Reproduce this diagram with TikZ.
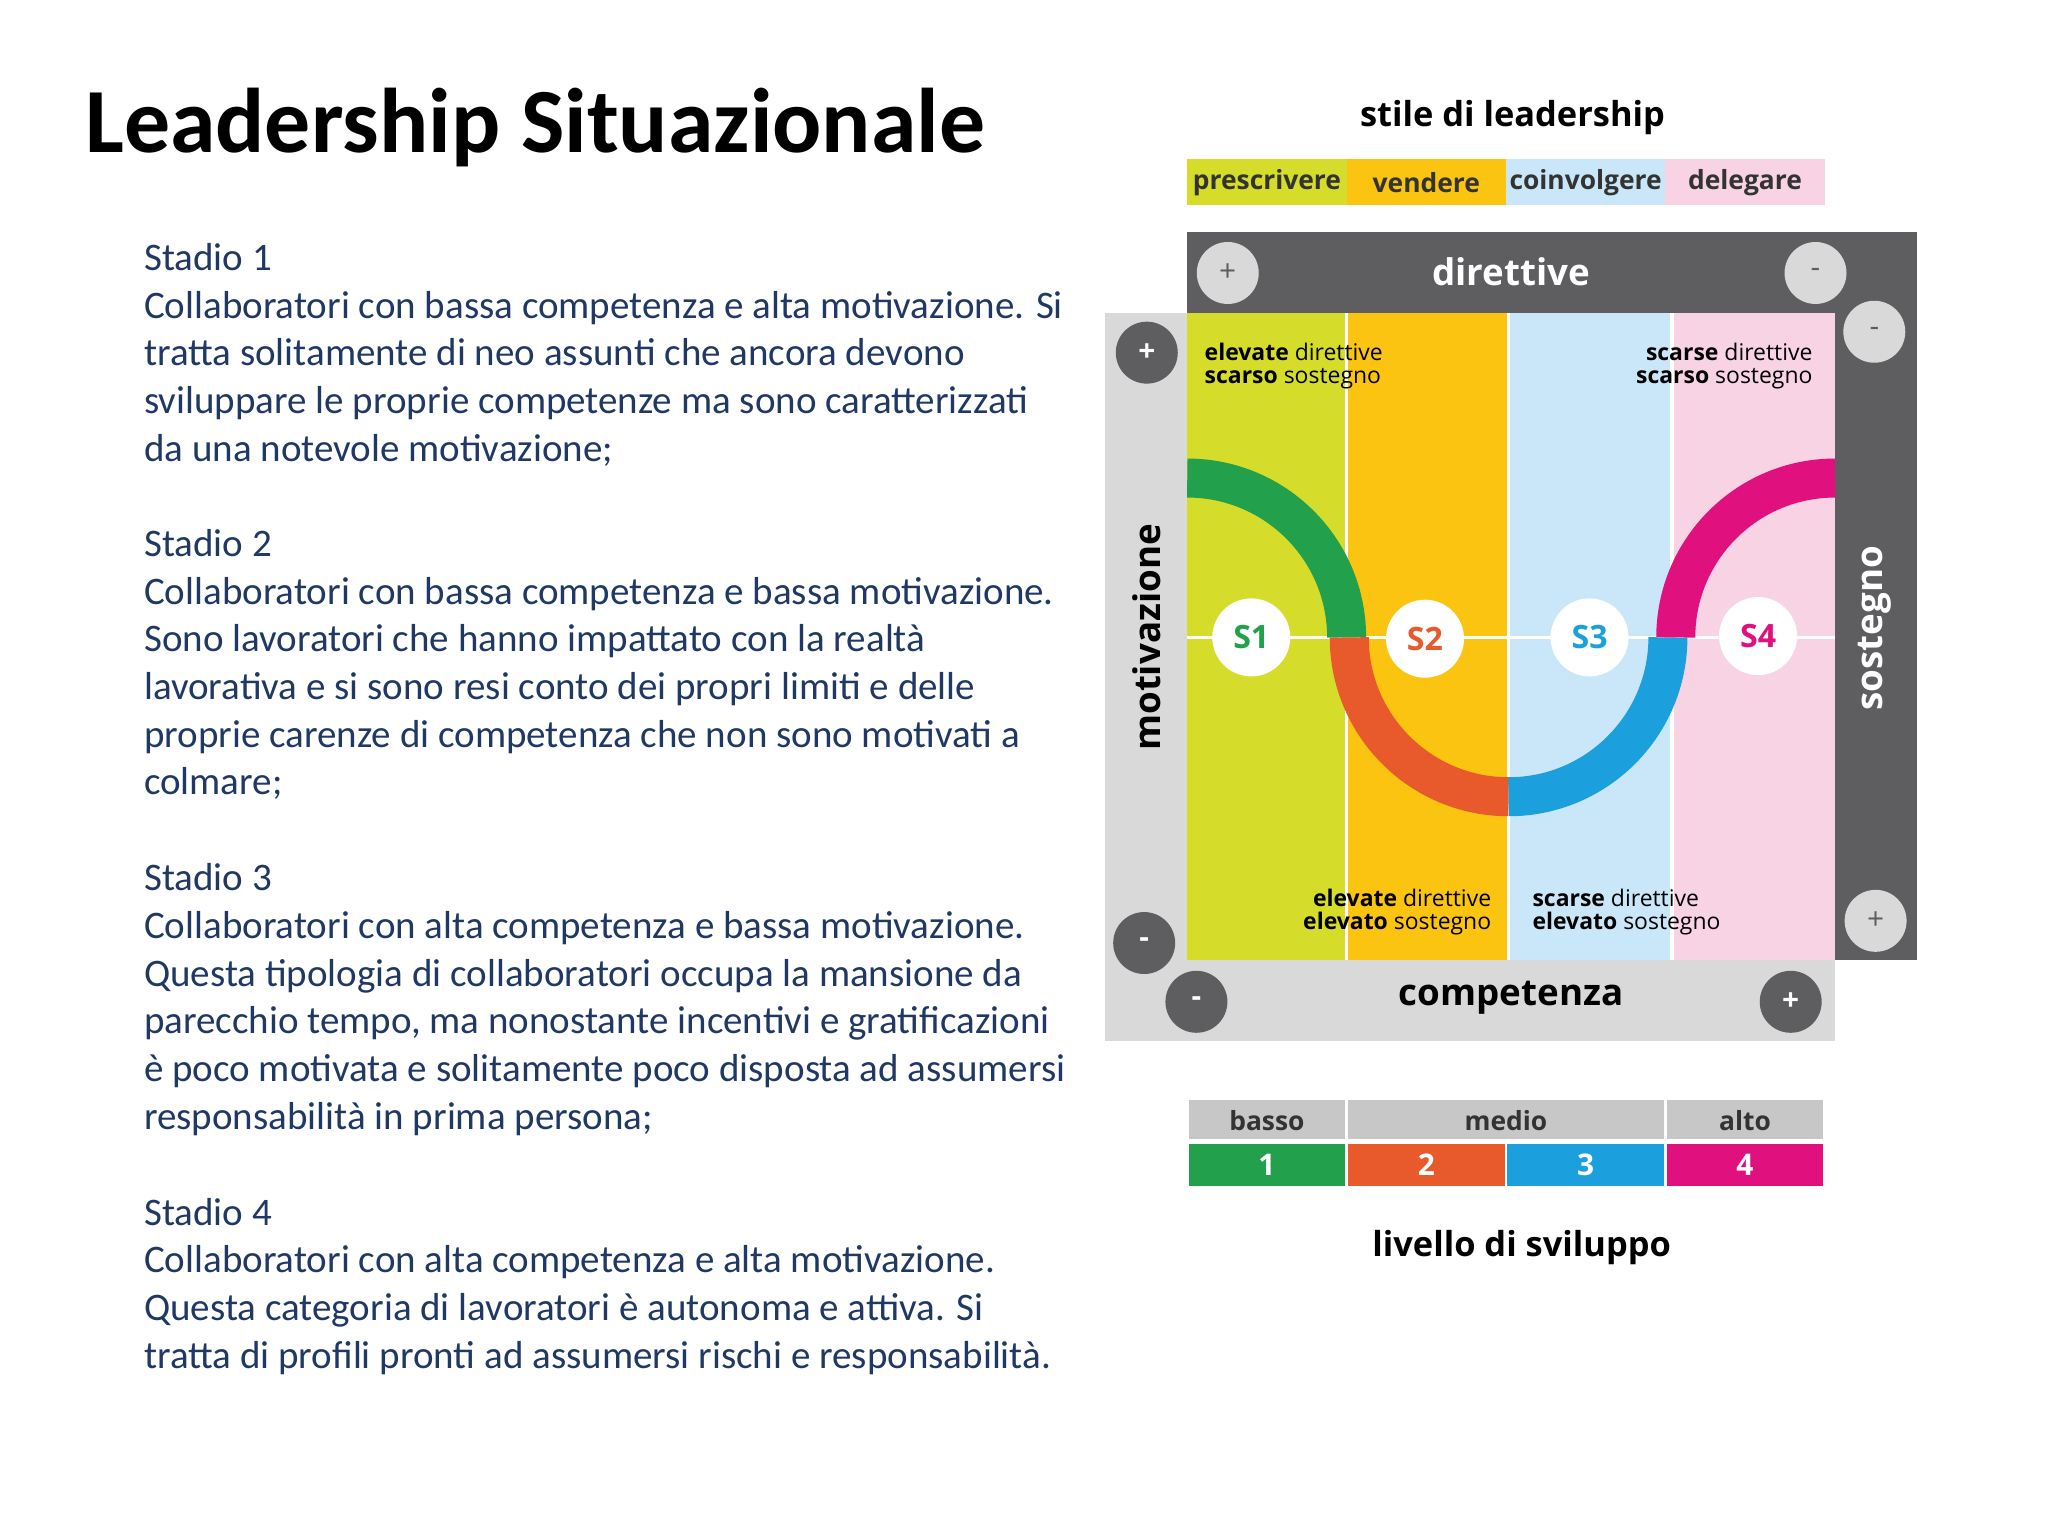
\documentclass[tikz,border=0pt]{standalone}
\usepackage{fontspec}
\setmainfont{Carlito}
\newfontfamily\df{Open Sans}
\definecolor{txtblue}{HTML}{1F3864}
\definecolor{dgray}{HTML}{5E5E60}
\definecolor{lgray}{HTML}{D9D9DA}
\definecolor{cA}{HTML}{D5DC2A}
\definecolor{cB}{HTML}{FBC410}
\definecolor{cC}{HTML}{C9E7F8}
\definecolor{cD}{HTML}{F8D3E3}
\definecolor{sA}{HTML}{22A04B}
\definecolor{sB}{HTML}{E8592C}
\definecolor{sC}{HTML}{1CA0DD}
\definecolor{sD}{HTML}{E0107F}
\tikzset{
 body/.style={anchor=base west,font=\fontsize{17}{20}\selectfont,text=txtblue,inner sep=0},
 lightpm/.style={circle,fill=lgray,minimum size=27,inner sep=0,text=dgray,font=\df\fontsize{13}{13}\selectfont},
 darkpm/.style={circle,fill=dgray,minimum size=27,inner sep=0,text=white,font=\df\bfseries\fontsize{13}{13}\selectfont},
 snode/.style={circle,fill=white,minimum size=34,inner sep=0,font=\df\bfseries\fontsize{14}{14}\selectfont},
 small/.style={font=\df\fontsize{10}{10.2}\selectfont,inner sep=0,align=left},
 arcl/.style={line width=17}
}
\begin{document}
\begin{tikzpicture}[x=0.02cm,y=-0.02cm]
\useasboundingbox[fill=white] (0,0) rectangle (1568,1176);
\node[anchor=base west,inner sep=0,font=\bfseries\fontsize{40}{40}\selectfont] (title) at (65,117) {Leadership Situazionale};
% body text
\foreach \t [count=\i] in {Stadio 1,
 Collaboratori con bassa competenza e alta motivazione. Si,
 tratta solitamente di neo assunti che ancora devono,
 sviluppare le proprie competenze ma sono caratterizzati,
 da una notevole motivazione;}
 \node[body] (a\i) at (110,{207+36.5*(\i-1)}) {\t};
\foreach \t [count=\i] in {Stadio 2,
 Collaboratori con bassa competenza e bassa motivazione.,
 Sono lavoratori che hanno impattato con la realtà,
 lavorativa e si sono resi conto dei propri limiti e delle,
 proprie carenze di competenza che non sono motivati a,
 colmare;}
 \node[body] (b\i) at (110,{426+36.5*(\i-1)}) {\t};
\foreach \t [count=\i] in {Stadio 3,
 Collaboratori con alta competenza e bassa motivazione.,
 Questa tipologia di collaboratori occupa la mansione da,
 parecchio tempo{,} ma nonostante incentivi e gratificazioni,
 è poco motivata e solitamente poco disposta ad assumersi,
 responsabilità in prima persona;}
 \node[body] (c\i) at (110,{682+36.5*(\i-1)}) {\t};
\foreach \t [count=\i] in {Stadio 4,
 Collaboratori con alta competenza e alta motivazione.,
 Questa categoria di lavoratori è autonoma e attiva. Si,
 tratta di profili pronti ad assumersi rischi e responsabilità.}
 \node[body] (d\i) at (110,{938+36.5*(\i-1)}) {\t};
% header
\node[font=\df\bfseries\fontsize{15}{15}\selectfont] (stile) at (1158,90) {stile di leadership};
\foreach \x/\c/\t [count=\i] in {909/cA/prescrivere,1031/cB/vendere,1153/cC/coinvolgere,1275/cD/delegare}{
 \fill[\c] (\x,122) rectangle ++(122,35);
 \node[font=\df\bfseries\fontsize{11.5}{12}\selectfont,text=black!80] (st\i) at (\x+61,140) {\t};
}
% bands
\fill[dgray] (909,178) rectangle (1468,240);
\fill[dgray] (1405,178) rectangle (1468,735);
\fill[lgray] (846,240) rectangle (909,797);
\fill[lgray] (846,735) rectangle (1405,797);
% columns
\fill[cA] (909,240) rectangle (1031,735);
\fill[cB] (1031,240) rectangle (1155,735);
\fill[cC] (1155,240) rectangle (1280,735);
\fill[cD] (1280,240) rectangle (1405,735);
\draw[white,line width=1.6] (1031,240)--(1031,735) (1155,240)--(1155,735) (1280,240)--(1280,735) (909,488)--(1405,488);
% arcs
\draw[arcl,sA] (909,366) arc[start angle=-90,end angle=0,radius=122];
\draw[arcl,sB] (1033,488) arc[start angle=180,end angle=90,radius=122];
\draw[arcl,sC] (1155,610) arc[start angle=90,end angle=0,radius=122];
\draw[arcl,sD] (1283,488) arc[start angle=180,end angle=270,radius=122];
\node[snode,text=sA] (s1) at (958,488) {S1};
\node[snode,text=sB] (s2) at (1091,489) {S2};
\node[snode,text=sC] (s3) at (1217,488) {S3};
\node[snode,text=sD] (s4) at (1346,487) {S4};
% plus/minus
\node[lightpm] (p1) at (940,209) {+};
\node[lightpm] (m1) at (1390,209) {-};
\node[lightpm] (m2) at (1435,254) {-};
\node[lightpm] (p2) at (1436,705) {+};
\node[darkpm] (p3) at (878,270) {+};
\node[darkpm] (m3) at (876,722) {-};
\node[darkpm] (m4) at (916,767) {-};
\node[darkpm] (p4) at (1371,767) {+};
% axis labels
\node[text=white,font=\df\bfseries\fontsize{16}{16}\selectfont] (dir) at (1157,208) {direttive};
\node[font=\df\bfseries\fontsize{16}{16}\selectfont] (comp) at (1157,764) {competenza};
\node[rotate=90,font=\df\bfseries\fontsize{16}{16}\selectfont] (mot) at (878,488) {motivazione};
\node[rotate=90,text=white,font=\df\bfseries\fontsize{16}{16}\selectfont] (sos) at (1435,481) {sostegno};
% corner texts
\node[small,anchor=north west] (q1) at (922,262) {\textbf{elevate} direttive\\\textbf{scarso} sostegno};
\node[small,anchor=north east,align=right] (q4) at (1388,262) {\textbf{scarse} direttive\\\textbf{scarso} sostegno};
\node[small,anchor=north east,align=right] (q2) at (1142,680) {\textbf{elevate} direttive\\\textbf{elevato} sostegno};
\node[small,anchor=north west] (q3) at (1173,680) {\textbf{scarse} direttive\\\textbf{elevato} sostegno};
% bottom bars
\foreach \x/\w/\t [count=\i] in {909/122/basso,1031/244/medio,1275/122/alto}{
 \fill[black!22] (\x+1,842) rectangle ++(\w-2,30);
 \node[font=\df\bfseries\fontsize{11.5}{12}\selectfont,text=black!80] (lv\i) at (\x+\w/2,858) {\t};
}
\foreach \x/\c [count=\i] in {909/sA,1031/sB,1153/sC,1275/sD}{
 \fill[\c] (\x+1,876) rectangle ++(120,32);
 \node[font=\df\bfseries\fontsize{13}{13}\selectfont,text=white] (n\i) at (\x+61,892) {\i};
}
\node[font=\df\bfseries\fontsize{15}{15}\selectfont] (liv) at (1165,955) {livello di sviluppo};
\end{tikzpicture}
\end{document}
